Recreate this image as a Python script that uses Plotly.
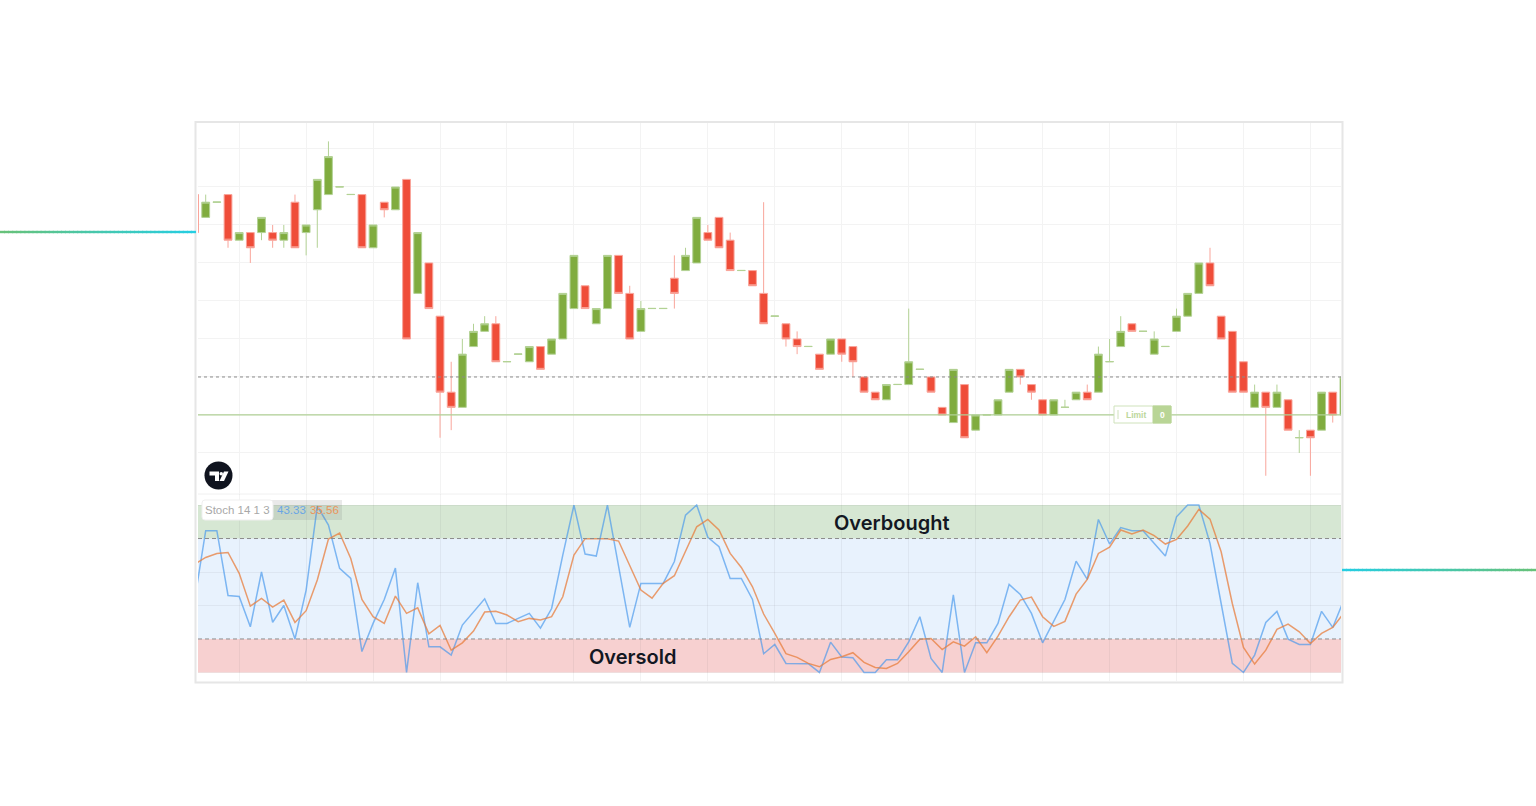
import plotly.graph_objects as go

# candles, price in ticks around the limit level (limit = 100)
bar_idx = list(range(104))
opens = [129,126,128,129,123,124,124,124,123,128,124,127,129,130,129,129,122,128,127,131,116,120,113,103,101,109,111,112,107,108,107,109,108,110,114,117,
         112,114,121,116,111,114,114,118,119,120,124,126,123,119,119,116,113,112,110,109,108,108,110,109,105,103,102,104,104,106,105,101,99,104,
         98,100,100,103,106,104,102,100,101,102,103,103,107,109,112,111,108,109,111,113,116,120,113,111,107,101,103,101,102,97,98,98,103,100]
highs = [129,129,128,129,124,124,126,125,125,129,125,131,136,130,129,129,125,128,130,131,124,120,113,107,110,112,113,113,107,108,109,109,110,116,121,117,
         114,121,121,117,115,114,114,121,122,126,125,126,124,119,119,128,113,112,111,109,108,110,110,109,105,103,104,104,114,106,105,101,106,104,
         100,100,102,106,106,104,102,102,102,103,104,109,110,113,112,111,111,109,114,116,120,122,113,111,107,104,103,104,102,98,98,103,103,105]
lows = [124,126,128,122,123,120,123,122,122,122,121,122,129,130,129,122,122,126,127,110,116,114,97,98,101,109,111,107,107,108,107,106,108,110,114,114,
        112,114,116,110,111,114,114,114,119,120,123,122,119,119,117,112,113,109,108,109,106,108,107,105,103,102,102,104,104,106,103,100,99,97,
        98,100,100,103,104,102,100,100,101,102,102,103,107,109,111,111,108,109,111,113,116,117,110,103,103,101,92,101,98,95,92,98,99,100]
closes = [124,128,128.02,123,124,122,126,123,124,122,125,131,134,130.02,129.02,122,125,127,130,110,124,114,103,101,108,111,112,107,107.02,108.02,109,106,110,116,121,114,
          114,121,116,110,114,114.02,114.02,116,121,126,123,122,119,119.02,117,112,113.02,110,109,109.02,106,110,108,107,103,102,104,104.02,107,106.02,103,100,106,97,
          100,100.02,102,106,105,103,100,102,101.02,103,102,108,107.02,111,111,111.02,110,109.02,113,116,120,117,110,103,103,103,101,103,98,97.02,97,103,100,105]

# stochastic lines
stoch_k = [42.8,84.7,84.7,46,45.4,27.3,60,30,40,20,49.2,99.4,88,62.2,56.2,12.5,29.3,43.6,62.4,0,53.6,15.3,15.3,10.4,28.3,36.1,44,29.3,29.3,32.3,35.3,26.5,38.2,70.1,100,70.7,
           69.5,100,63.5,26.9,53.2,53.2,53.2,66.3,94,100,80.7,75.1,56.2,56.2,43.6,11.2,16.7,5.4,5.2,5.2,0,18.1,9.2,8.8,0,0,7.6,7.6,18.3,33.3,8.4,0,46.4,0,
           17.7,17.7,29.3,52.6,46.6,35.3,17.7,30.5,43.6,66.5,55.6,91.4,76.7,86.5,84.7,84.7,77.1,69.5,93,100,100,77.1,41.2,5.4,0,10.4,29.9,36.5,19.9,16.7,16.7,36.5,26.9,43.33]
stoch_d = [64.7,68.7,71.1,71.7,59.2,39.6,44.2,39,43.2,29.9,36.9,55.2,79.7,83.3,68.1,43.6,33.3,29.3,45.6,35.3,38.6,23.1,28.1,13.3,17.7,24.7,36.1,36.5,34.3,30.3,32.3,31.3,33.3,45.2,70.1,79.9,
           79.9,79.9,78.5,64.1,49.2,44.4,53.2,57.8,72.1,87,91.4,85.1,71.1,62.7,51.2,34.9,23.3,11.2,9,5.4,3.4,7.8,9.4,11.8,6,3,2.4,5.4,12.4,19.9,20.3,13.7,18.3,15.7,
           21.3,11.8,21.7,33.3,43.2,45,33.3,27.5,30.5,46.8,55.6,71.1,74.9,85.1,82.7,85.1,81.7,76.7,79.5,87.5,97.4,91.6,72.1,41.2,14.9,5,13.3,25.7,28.9,24.3,17.3,23.3,26.9,35.56]

limit_price = 100
dotted_price = 105
price_grid = [95,100,105,110,115,120,125,130,135]
stoch_grid = [0,40,60,100]
time_grid = list(range(4,104,6))


def px(x):
    return x/1536


def py(y):
    return 1-y/806


fig = go.Figure()

fig.add_trace(go.Candlestick(x=bar_idx, open=opens, high=highs, low=lows, close=closes,
                             increasing=dict(line=dict(color='#b3d295', width=1), fillcolor='#80ac3f'),
                             decreasing=dict(line=dict(color='#f9a59b', width=1), fillcolor='#ef4d39'),
                             whiskerwidth=0, xaxis='x', yaxis='y', showlegend=False))
fig.add_trace(go.Scatter(x=bar_idx, y=stoch_k, mode='lines', line=dict(color='rgba(66,149,236,0.65)', width=1.5),
                         xaxis='x2', yaxis='y2', showlegend=False))
fig.add_trace(go.Scatter(x=bar_idx, y=stoch_d, mode='lines', line=dict(color='rgba(232,125,60,0.75)', width=1.5),
                         xaxis='x2', yaxis='y2', showlegend=False))

shapes = []

# stochastic bands and levels
for low, high, col in [(80,100,'rgba(76,153,63,0.23)'), (20,80,'rgba(33,131,240,0.1)'), (0,20,'rgba(222,50,50,0.23)')]:
    shapes.append(dict(type='rect', xref='x2 domain', yref='y2', x0=0, x1=1, y0=low, y1=high,
                       fillcolor=col, line=dict(width=0), layer='below'))
for lvl in [20,80]:
    shapes.append(dict(type='line', xref='x2 domain', yref='y2', x0=0, x1=1, y0=lvl, y1=lvl,
                       line=dict(color='#8c8c8c', width=1, dash='4px,3px'), layer='above'))

# price lines
shapes.append(dict(type='line', xref='x domain', yref='y', x0=0, x1=1, y0=dotted_price, y1=dotted_price,
                   line=dict(color='#8a8a8a', width=1, dash='dot'), layer='above'))
shapes.append(dict(type='line', xref='x domain', yref='y', x0=0, x1=1, y0=limit_price, y1=limit_price,
                   line=dict(color='#b0d096', width=1.3), layer='above'))

# frame and pane divider
shapes.append(dict(type='rect', xref='paper', yref='paper', x0=px(195.5), x1=px(1342.5), y0=py(682.5), y1=py(122),
                   line=dict(color='#e6e6e6', width=2), layer='above'))
shapes.append(dict(type='line', xref='paper', yref='paper', x0=px(198), x1=px(1341), y0=py(494), y1=py(494),
                   line=dict(color='#f0f0f0', width=1), layer='below'))

# limit label
shapes.append(dict(type='rect', xref='paper', yref='paper', x0=px(1114), x1=px(1171), y0=py(423), y1=py(406),
                   fillcolor='white', line=dict(color='#cfe2bb', width=1), layer='above'))
shapes.append(dict(type='rect', xref='paper', yref='paper', x0=px(1153), x1=px(1171), y0=py(423), y1=py(406),
                   fillcolor='#b9d596', line=dict(color='#b9d596', width=1), layer='above'))
shapes.append(dict(type='line', xref='paper', yref='paper', x0=px(1118), x1=px(1118), y0=py(419), y1=py(410),
                   line=dict(color='#cfe2bb', width=1), layer='above'))

# stochastic legend boxes
shapes.append(dict(type='rect', xref='paper', yref='paper', x0=px(272), x1=px(342), y0=py(520), y1=py(500),
                   fillcolor='rgba(120,120,120,0.16)', line=dict(width=0), layer='above'))
shapes.append(dict(type='path', xref='paper', yref='paper', layer='above', fillcolor='white', line=dict(color='#efefef', width=1),
                   path=f'M {px(205)} {py(500)} L {px(270)} {py(500)} Q {px(273)} {py(500)} {px(273)} {py(503)} '
                        f'L {px(273)} {py(517)} Q {px(273)} {py(520)} {px(270)} {py(520)} L {px(205)} {py(520)} '
                        f'Q {px(202)} {py(520)} {px(202)} {py(517)} L {px(202)} {py(503)} Q {px(202)} {py(500)} {px(205)} {py(500)} Z'))

# logo
shapes.append(dict(type='circle', xref='paper', yref='paper', x0=px(204.5), x1=px(232.5), y0=py(489.5), y1=py(461.5),
                   fillcolor='#10141f', line=dict(width=0), layer='above'))
shapes.append(dict(type='path', xref='paper', yref='paper', layer='above', fillcolor='white', line=dict(width=0),
                   path=f'M {px(209.5)} {py(471.5)} L {px(219)} {py(471.5)} L {px(219)} {py(481)} L {px(215)} {py(481)} '
                        f'L {px(215)} {py(475.5)} L {px(209.5)} {py(475.5)} Z'))
shapes.append(dict(type='path', xref='paper', yref='paper', layer='above', fillcolor='white', line=dict(width=0),
                   path=f'M {px(224)} {py(471.5)} L {px(228.5)} {py(471.5)} L {px(224)} {py(481)} L {px(219.5)} {py(481)} Z'))
shapes.append(dict(type='circle', xref='paper', yref='paper', x0=px(219.5), x1=px(223), y0=py(475.5), y1=py(472),
                   fillcolor='white', line=dict(width=0), layer='above'))

# teal / green lines either side, stepped to look like a gradient
steps = 48
for i in range(steps):
    t = i/(steps-1)
    col = f'rgb({int(104-66*t)},{int(194+12*t)},{int(122+104*t)})'
    shapes.append(dict(type='line', xref='paper', yref='paper', x0=px(195*i/steps), x1=px(195*(i+1)/steps+1),
                       y0=py(232), y1=py(232), line=dict(color=col, width=2.4), layer='above'))
    shapes.append(dict(type='line', xref='paper', yref='paper', x0=px(1536-193*i/steps), x1=px(1536-193*(i+1)/steps-1),
                       y0=py(570), y1=py(570), line=dict(color=col, width=2.4), layer='above'))

annotations = []


def label(x, y, text, color, size, family='Liberation Sans', weight=None):
    annotations.append(dict(xref='paper', yref='paper', x=px(x), y=py(y), text=text, showarrow=False,
                            xanchor='center', yanchor='middle',
                            font=dict(color=color, size=size, family=family, weight=weight)))


label(892, 523, 'Overbought', '#131722', 20, 'Inter', 600)
label(632.5, 656.5, 'Oversold', '#131722', 20, 'Inter', 600)
label(237.5, 510, 'Stoch 14 1 3', '#a8a8a8', 11.5)
label(291, 510, '43.33', '#6aa6e4', 11.5)
label(324.5, 510, '35.56', '#e9945c', 11.5)
label(1136, 414.5, 'Limit', '#bcd79b', 8.5, weight='bold')
label(1162, 414.5, '0', 'white', 8.5, weight='bold')

fig.update_layout(
    width=1536, height=806, margin=dict(l=0, r=0, t=0, b=0, pad=0),
    paper_bgcolor='white', plot_bgcolor='white', showlegend=False, boxgap=0,
    xaxis=dict(domain=[px(198), px(1341)], anchor='y', range=[0.31, 102.74], tickvals=time_grid,
               showticklabels=False, ticks='', gridcolor='#f3f3f3', zeroline=False, rangeslider=dict(visible=False)),
    yaxis=dict(domain=[py(494), py(123)], anchor='x', range=[89.6, 138.42], tickvals=price_grid,
               showticklabels=False, ticks='', gridcolor='#f3f3f3', zeroline=False),
    xaxis2=dict(domain=[px(198), px(1341)], anchor='y2', matches='x', tickvals=time_grid,
                showticklabels=False, ticks='', gridcolor='rgba(90,90,90,0.07)', zeroline=False),
    yaxis2=dict(domain=[py(681), py(494)], anchor='x2', range=[-5.1, 106.6], tickvals=stoch_grid,
                showticklabels=False, ticks='', gridcolor='rgba(90,90,90,0.07)', zeroline=False),
    shapes=shapes, annotations=annotations,
)

fig.write_html("out.html", config=dict(displayModeBar=False),
               post_script="document.body.style.margin='0';document.body.style.overflow='hidden';")
